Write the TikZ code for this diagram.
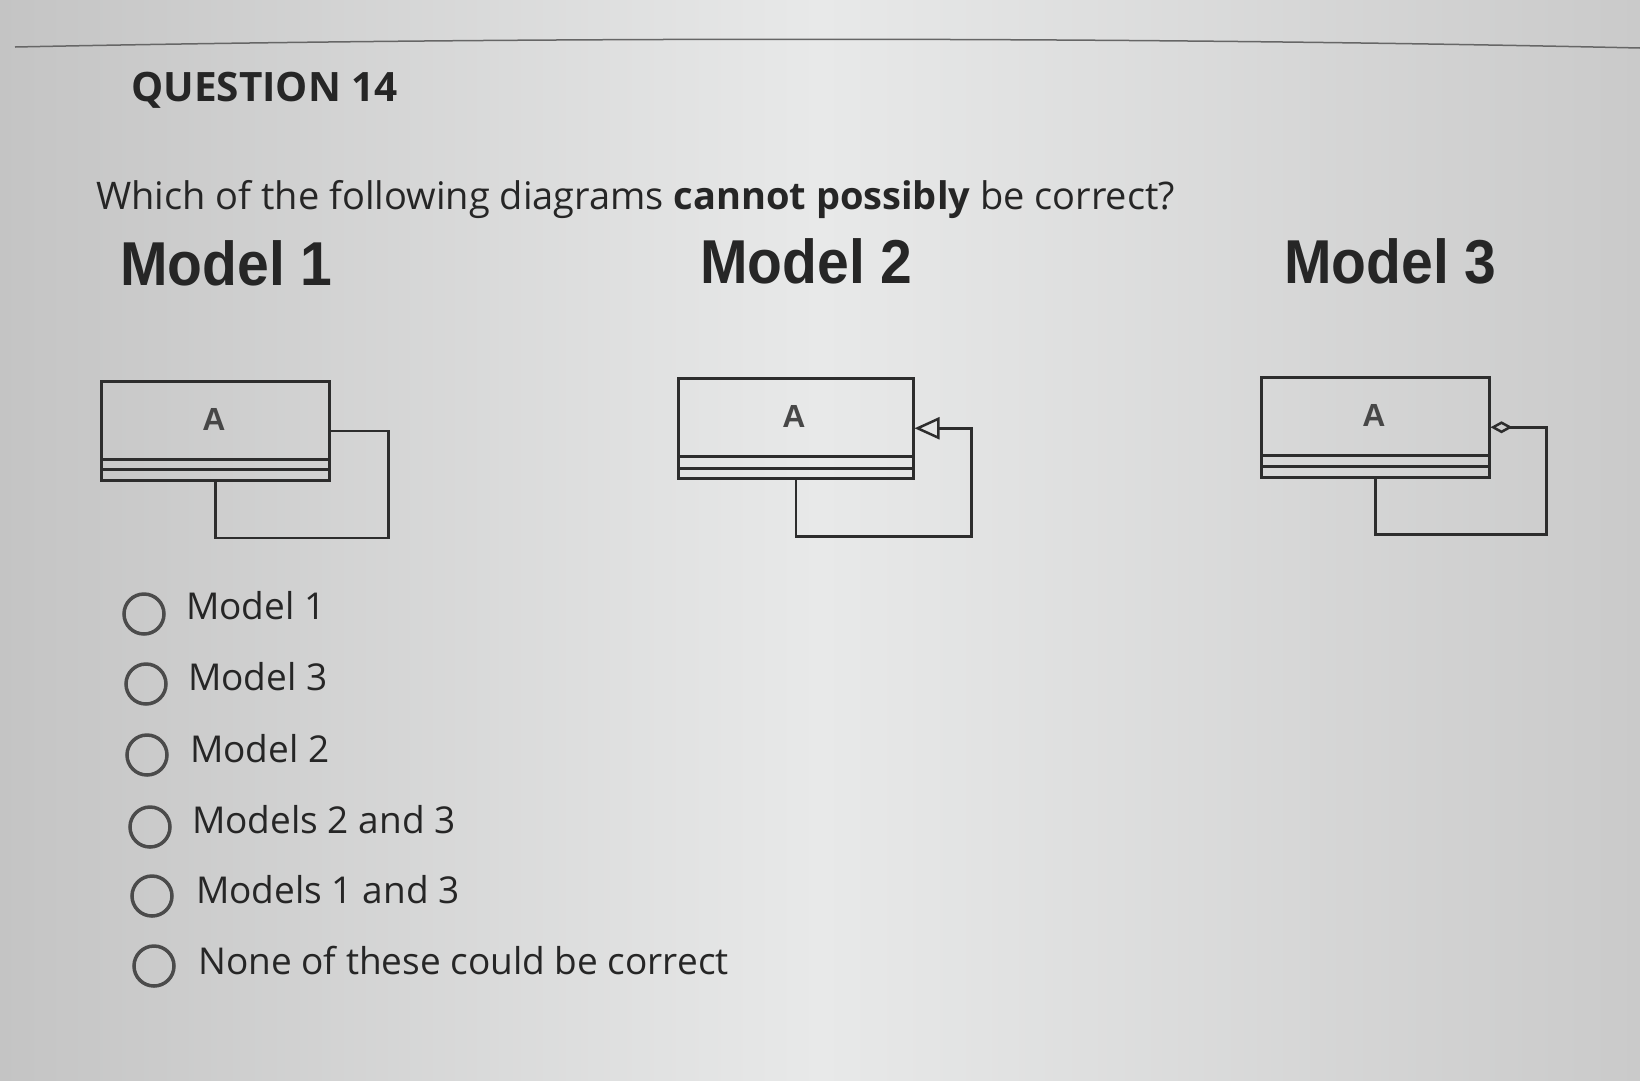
\documentclass[tikz,border=0pt]{standalone}
\usepackage{fontspec}
\setmainfont{Open Sans}
\newfontfamily\libsans{Liberation Sans}
\usetikzlibrary{arrows.meta}
\definecolor{bgL}{RGB}{196,196,196}
\definecolor{bgM}{RGB}{232,233,233}
\definecolor{bgR}{RGB}{202,202,202}
\definecolor{ink}{RGB}{38,38,38}
\definecolor{linec}{RGB}{45,45,45}
\definecolor{radioc}{RGB}{75,75,75}
\begin{document}
\begin{tikzpicture}[x=1pt,y=-1pt,
  classbox/.style={draw=linec, line width=2.5pt, minimum width=#1, minimum height=100pt, inner sep=0pt, anchor=north west},
  clsname/.style={font=\libsans\bfseries\fontsize{32}{32}\selectfont, text=ink!85, inner sep=0pt},
  comp/.style={draw=linec, line width=3pt},
  conn/.style={draw=linec, line width=2.5pt},
  title/.style={font=\libsans\bfseries\fontsize{62}{62}\selectfont, text=ink, anchor=base west, inner sep=0pt, xscale=0.92},
  radio/.style={circle, draw=radioc, line width=3.5pt, minimum size=40pt, inner sep=0pt},
  opt/.style={font=\fontsize{37}{37}\selectfont, text=ink, anchor=base west, inner sep=0pt}
]
\useasboundingbox (0,0) rectangle (1640,1080);
\shade[left color=bgL, right color=bgR, middle color=bgM] (0,0) rectangle (1640,1080);
\draw[gray!80!black, line width=1.5pt] (15,47) .. controls (500,37) and (1100,36) .. (1640,48);

\node[font=\bfseries\fontsize{40.5}{40.5}\selectfont, text=ink, anchor=base west, inner sep=0pt] (q) at (131,101) {QUESTION 14};
\node[font=\fontsize{38}{38}\selectfont, text=ink, anchor=base west, inner sep=0pt] (qt) at (96,209) {Which of the following diagrams \textbf{cannot possibly} be correct?};

\node[title] (m1) at (120,285) {Model 1};
\node[title] (m2) at (700,283) {Model 2};
\node[title] (m3) at (1284,283) {Model 3};

% Model 1
\node[classbox=228pt, minimum height=99pt] (A1) at (100,380) {};
\node[clsname] (A1n) at (214,419) {A};
\draw[comp] ([yshift=22pt]A1.south west) -- ([yshift=22pt]A1.south east);
\draw[comp] ([yshift=12pt]A1.south west) -- ([yshift=12pt]A1.south east);
\draw[conn] (A1.east) -- ++(58,0) -- ++(0,107) -| (A1.south);

% Model 2
\node[classbox=235pt] (A2) at (677,377) {};
\node[clsname] (A2n) at (794,416) {A};
\draw[comp] ([yshift=23pt]A2.south west) -- ([yshift=23pt]A2.south east);
\draw[comp] ([yshift=11pt]A2.south west) -- ([yshift=11pt]A2.south east);
\draw[conn, {Triangle[open,length=25pt,width=22pt]}-] (A2.east) -- ++(57,0) -- ++(0,108) -| (A2.south);

% Model 3
\node[classbox=228pt] (A3) at (1260,376) {};
\node[clsname] (A3n) at (1374,415) {A};
\draw[comp] ([yshift=23pt]A3.south west) -- ([yshift=23pt]A3.south east);
\draw[comp] ([yshift=12pt]A3.south west) -- ([yshift=12pt]A3.south east);
\draw[conn, {Diamond[open,length=22pt,width=12pt]}-] (A3.east) -- ++(56,0) -- ++(0,107) -| (A3.south);

% options
\node[radio] (r1) at (144,614) {};
\node[radio] (r2) at (146,684) {};
\node[radio] (r3) at (147,755) {};
\node[radio] (r4) at (150,827) {};
\node[radio] (r5) at (152,896) {};
\node[radio] (r6) at (154,966) {};
\node[opt] (t1) at (186,619) {Model 1};
\node[opt] (t2) at (188,690) {Model 3};
\node[opt] (t3) at (190,762) {Model 2};
\node[opt] (t4) at (192,833) {Models 2 and 3};
\node[opt] (t5) at (196,903) {Models 1 and 3};
\node[opt] (t6) at (198,974) {None of these could be correct};
\end{tikzpicture}
\end{document}
